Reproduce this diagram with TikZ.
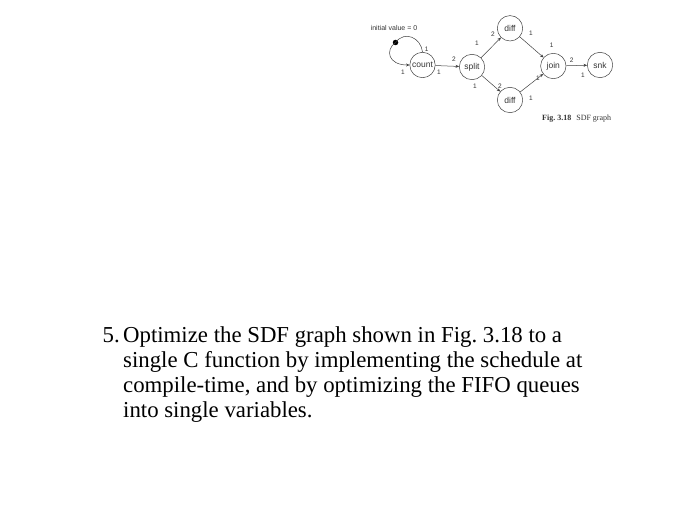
\documentclass[tikz,border=0pt]{standalone}
\usepackage{fontspec}
\setmainfont{Liberation Serif}
\newfontfamily\dsf{Liberation Sans}
\usetikzlibrary{arrows.meta}
\begin{document}
\begin{tikzpicture}[x=1pt,y=-1pt,
  actor/.style={circle,draw=black!75,line width=0.5pt,minimum size=25.4pt,inner sep=0pt,font=\dsf\fontsize{8.5}{9}\selectfont,text=black!80},
  edge/.style={draw=black!75,line width=0.5pt,-{Stealth[length=3.5pt,width=3pt]}},
  rate/.style={font=\dsf\fontsize{6.5}{7}\selectfont,text=black!80,inner sep=0pt},
  body/.style={anchor=base west,inner sep=0pt,font=\fontsize{22.8}{25}\selectfont}]
\useasboundingbox (0,0) rectangle (700,521);
% actors
\node[actor] (count) at (422.5,65) {count};
\node[actor] (split) at (472,67) {split};
\node[actor] (diffa) at (510,28.3) {diff};
\node[actor] (diffb) at (510,100) {diff};
\node[actor] (join) at (553.3,66) {join};
\node[actor] (snk) at (600,65) {snk};
% initial token loop
\node[circle,fill=black,inner sep=0pt,minimum size=5.5pt] (tok) at (395.5,42.5) {};
\node[font=\dsf\fontsize{7}{8}\selectfont,text=black!80,inner sep=0pt] (init) at (394,28) {initial value = 0};
\draw[draw=black!75,line width=0.5pt] (count.north) .. controls (421,38) and (405,30) .. (tok.center);
\draw[edge] (tok.center) .. controls (385,50) and (388,65) .. (count.west);
% edges
\draw[edge] (count) -- (split);
\draw[edge] (split) -- (diffa);
\draw[edge] (split) -- (diffb);
\draw[edge] (diffa) -- (join);
\draw[edge] (diffb) -- (join);
\draw[edge] (join) -- (snk);
% rates
\node[rate] (r1) at (426.7,49) {1};
\node[rate] (r2) at (403,72) {1};
\node[rate] (r3) at (439,72.5) {1};
\node[rate] (r4) at (454,59.5) {2};
\node[rate] (r5) at (477,43) {1};
\node[rate] (r6) at (475,86.5) {1};
\node[rate] (r7) at (493,34) {2};
\node[rate] (r8) at (500,86) {2};
\node[rate] (r9) at (531,33) {1};
\node[rate] (r10) at (531,98) {1};
\node[rate] (r11) at (551.7,45) {1};
\node[rate] (r12) at (538,78) {1};
\node[rate] (r13) at (571.7,60.5) {2};
\node[rate] (r14) at (583,75.7) {1};
% caption
\node[anchor=base west,inner sep=0pt,font=\fontsize{8}{8.5}\selectfont,text=black!80] (cap) at (542,121) {\textbf{Fig.\ 3.18}\hspace{5pt}SDF graph};
% exercise text
\node[body] (num) at (102.5,342) {5.};
\node[body] (l1) at (123,342) {Optimize the SDF graph shown in Fig.\ 3.18 to a};
\node[body] (l2) at (123,367.2) {single C function by implementing the schedule at};
\node[body] (l3) at (123,392.4) {compile-time, and by optimizing the FIFO queues};
\node[body] (l4) at (123,417.6) {into single variables.};
\end{tikzpicture}
\end{document}
